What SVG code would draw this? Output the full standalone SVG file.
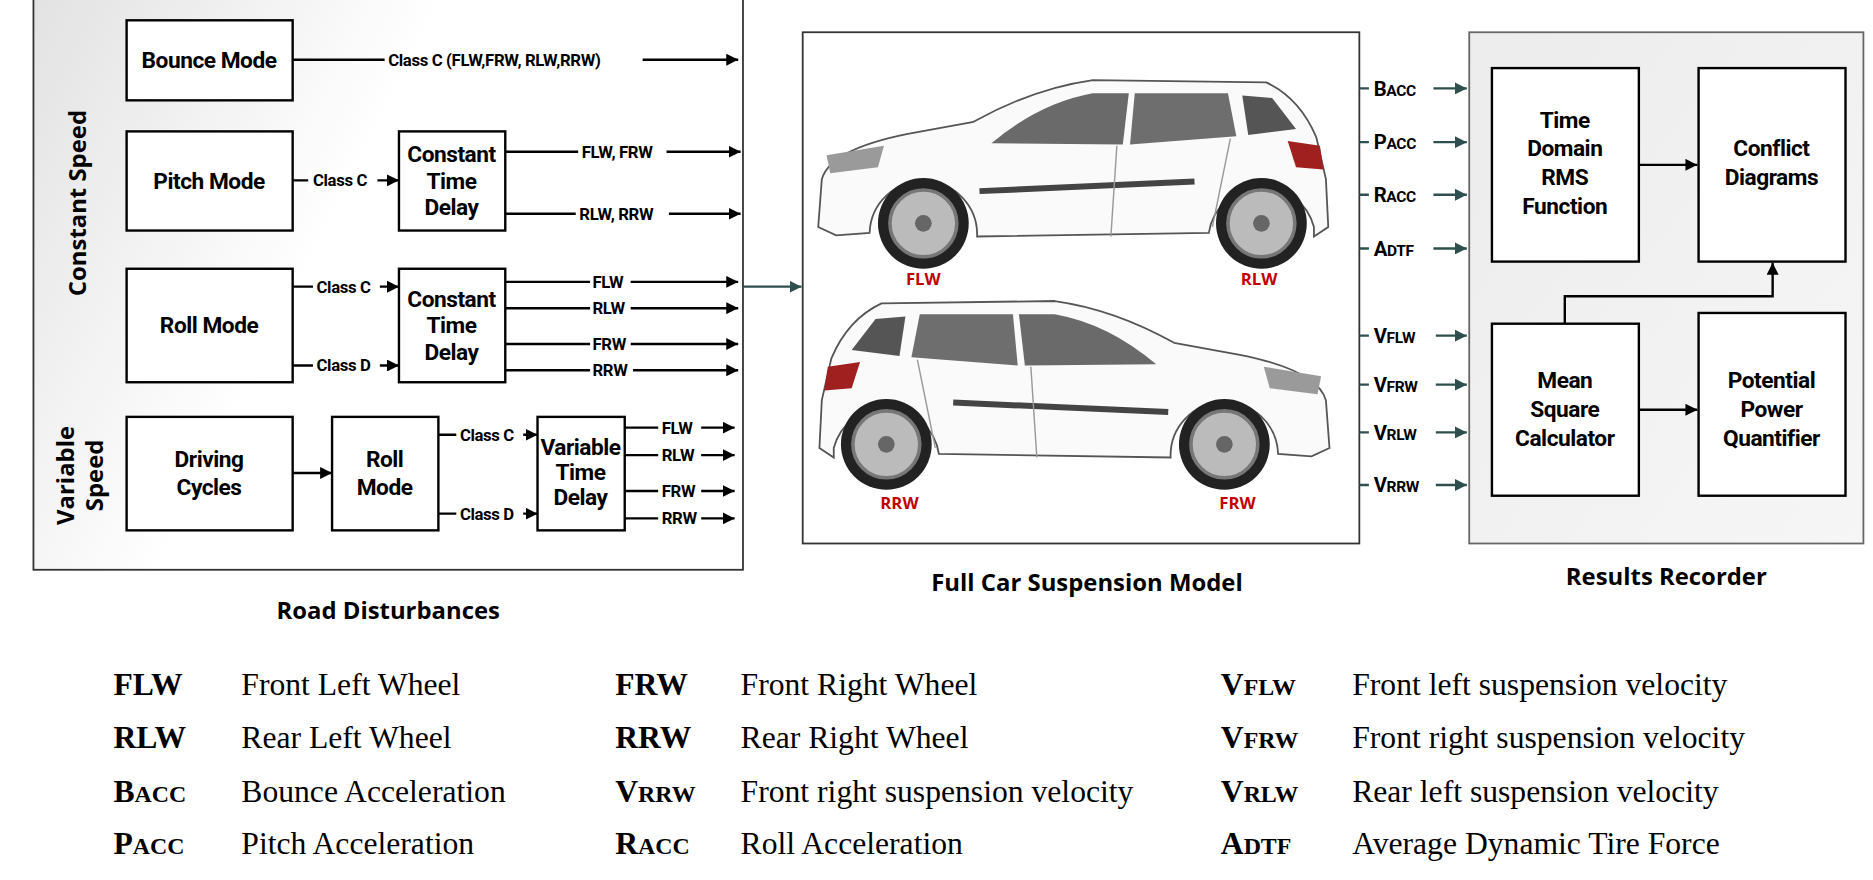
<svg xmlns="http://www.w3.org/2000/svg" width="1873" height="880" viewBox="0 0 1873 880">
<defs>
<linearGradient id="gl" x1="0" y1="0" x2="1" y2="0.4"><stop offset="0" stop-color="#e2e2e2"/><stop offset="0.5" stop-color="#ffffff"/><stop offset="1" stop-color="#ffffff"/></linearGradient>
<linearGradient id="gr" x1="0" y1="0" x2="1" y2="1"><stop offset="0" stop-color="#ececec"/><stop offset="1" stop-color="#f6f6f6"/></linearGradient>
<marker id="ah" viewBox="0 0 10 10" refX="10" refY="5" markerWidth="10" markerHeight="10" markerUnits="userSpaceOnUse" orient="auto"><path d="M0,0 L10,5 L0,10 Z" fill="#000"/></marker>
<marker id="ahg" viewBox="0 0 10 10" refX="10" refY="5" markerWidth="10" markerHeight="10" markerUnits="userSpaceOnUse" orient="auto"><path d="M0,0 L10,5 L0,10 Z" fill="#2f4f4f"/></marker>
<g id="car">
<path d="M685,190 L688,150 Q695,125 760,112 L815,102 Q865,74 915,67 L1060,69 Q1088,82 1102,115 L1110,150 L1112,190 L1100,198 L1100,190 A45,45 0 0 0 1012,195 L818,198 A45,45 0 0 0 728,195 L700,197 Z" fill="#fafafa" stroke="#555" stroke-width="1.5"/>
<path d="M830,120 Q870,86 915,78 L945,78 L940,121 Z" fill="#6a6a6a"/>
<path d="M950,78 L1028,78 L1035,114 L946,121 Z" fill="#6e6e6e"/>
<path d="M1040,80 L1065,82 L1085,108 L1045,113 Z" fill="#555"/>
<path d="M1078,118 L1105,122 L1108,142 L1085,140 Z" fill="#a02020"/>
<path d="M692,130 L740,122 L735,140 L695,145 Z" fill="#9a9a9a"/>
<path d="M820,160 L1000,152" stroke="#444" stroke-width="5"/>
<path d="M935,122 L930,198 M1030,116 L1015,190" stroke="#999" stroke-width="1.2" fill="none"/>
<circle cx="773" cy="187" r="38" fill="#222"/><circle cx="773" cy="187" r="28" fill="#bbb" stroke="#777" stroke-width="3"/><circle cx="773" cy="187" r="7" fill="#666"/>
<circle cx="1056" cy="187" r="38" fill="#222"/><circle cx="1056" cy="187" r="28" fill="#bbb" stroke="#777" stroke-width="3"/><circle cx="1056" cy="187" r="7" fill="#666"/>
</g>
</defs>
<style>
.b{fill:#fff;stroke:#000;stroke-width:2}
.t{font-family:Roboto,"Open Sans",sans-serif;font-weight:bold;font-size:19px;text-anchor:middle;letter-spacing:-0.4px}
.s{font-family:Roboto,"Open Sans",sans-serif;font-weight:bold;font-size:14px;letter-spacing:-0.3px}
.l{stroke:#000;stroke-width:2;fill:none;marker-end:url(#ah)}
.g{stroke:#2f4f4f;stroke-width:2;fill:none;marker-end:url(#ahg)}
.ti{font-family:"Open Sans",sans-serif;font-weight:bold;font-size:20px;text-anchor:middle}
.lg{font-family:"Liberation Serif",serif;font-size:26.5px}
.lb{font-family:"Liberation Serif",serif;font-size:26.5px;font-weight:bold}
.red{font-family:"Open Sans",sans-serif;font-weight:bold;font-size:14px;fill:#c00000;text-anchor:middle}
</style>
<g transform="scale(1.1945)">
<g id="panels">
<rect x="28" y="-4" width="594" height="481" fill="url(#gl)" stroke="#333" stroke-width="1.5"/>
<rect x="672" y="27" width="466" height="428" fill="#fff" stroke="#333" stroke-width="1.5"/>
<rect x="1230" y="27" width="330" height="428" fill="url(#gr)" stroke="#666" stroke-width="1.5"/>
</g>
<text class="ti" transform="translate(72,170) rotate(-90)">Constant Speed</text>
<text class="ti" transform="translate(62,398) rotate(-90)">Variable</text>
<text class="ti" transform="translate(86,398) rotate(-90)">Speed</text>
<g id="connectors">
<path class="l" d="M245,50 H618"/>
<path class="l" d="M245,151 H334"/>
<path class="l" d="M423,127 H620"/><path class="l" d="M423,179 H620"/>
<path class="l" d="M245,240 H334"/><path class="l" d="M245,306 H334"/>
<path class="l" d="M423,236 H618"/><path class="l" d="M423,258 H618"/><path class="l" d="M423,288 H618"/><path class="l" d="M423,310 H618"/>
<path class="l" d="M245,396 H278"/>
<path class="l" d="M367,364 H450"/><path class="l" d="M367,430 H450"/>
<path class="l" d="M523,358 H615"/><path class="l" d="M523,381 H615"/><path class="l" d="M523,411 H615"/><path class="l" d="M523,434 H615"/>
<path class="g" d="M622,240 H671"/>
<path class="g" d="M1138,74 H1228"/><path class="g" d="M1138,119 H1228"/><path class="g" d="M1138,163 H1228"/><path class="g" d="M1138,208 H1228"/>
<path class="g" d="M1138,281 H1228"/><path class="g" d="M1138,322 H1228"/><path class="g" d="M1138,362 H1228"/><path class="g" d="M1138,406 H1228"/>
<path class="l" d="M1372,138 H1421"/><path class="l" d="M1372,343 H1421"/>
<path class="l" d="M1310,271 V248 H1484 V220"/>
</g>
<g id="labels">
<rect x="322" y="41" width="216" height="18" fill="#fff"/><text class="s" x="325" y="55">Class C  (FLW,FRW, RLW,RRW)</text>
<rect x="258" y="143" width="58" height="17" fill="#fff"/><text class="s" x="262" y="156">Class C</text>
<rect x="484" y="119" width="74" height="17" fill="#fff"/><text class="s" x="487" y="132">FLW, FRW</text>
<rect x="482" y="171" width="78" height="17" fill="#fff"/><text class="s" x="485" y="184">RLW, RRW</text>
<rect x="262" y="232" width="56" height="17" fill="#fff"/><text class="s" x="265" y="245">Class C</text>
<rect x="262" y="298" width="56" height="17" fill="#fff"/><text class="s" x="265" y="311">Class D</text>
<g fill="#fff"><rect x="494" y="228" width="34" height="16"/><rect x="494" y="250" width="34" height="16"/><rect x="494" y="280" width="34" height="16"/><rect x="494" y="302" width="36" height="16"/></g>
<text class="s" x="496" y="241">FLW</text><text class="s" x="496" y="263">RLW</text><text class="s" x="496" y="293">FRW</text><text class="s" x="496" y="315">RRW</text>
<rect x="382" y="356" width="56" height="17" fill="#fff"/><text class="s" x="385" y="369">Class C</text>
<rect x="382" y="422" width="56" height="17" fill="#fff"/><text class="s" x="385" y="435">Class D</text>
<g fill="#fff"><rect x="551" y="350" width="36" height="16"/><rect x="551" y="373" width="36" height="16"/><rect x="551" y="403" width="36" height="16"/><rect x="551" y="426" width="36" height="16"/></g>
<text class="s" x="554" y="363">FLW</text><text class="s" x="554" y="386">RLW</text><text class="s" x="554" y="416">FRW</text><text class="s" x="554" y="439">RRW</text>
<g class="s" style="font-size:17px"><g fill="#fff"><rect x="1146" y="64" width="54" height="20"/><rect x="1146" y="109" width="54" height="20"/><rect x="1146" y="153" width="54" height="20"/><rect x="1146" y="198" width="54" height="20"/><rect x="1146" y="271" width="56" height="20"/><rect x="1146" y="312" width="56" height="20"/><rect x="1146" y="352" width="56" height="20"/><rect x="1146" y="396" width="56" height="20"/></g>
<text x="1150" y="80">B<tspan font-size="13">ACC</tspan></text>
<text x="1150" y="125">P<tspan font-size="13">ACC</tspan></text>
<text x="1150" y="169">R<tspan font-size="13">ACC</tspan></text>
<text x="1150" y="214">A<tspan font-size="13">DTF</tspan></text>
<text x="1150" y="287">V<tspan font-size="13">FLW</tspan></text>
<text x="1150" y="328">V<tspan font-size="13">FRW</tspan></text>
<text x="1150" y="368">V<tspan font-size="13">RLW</tspan></text>
<text x="1150" y="412">V<tspan font-size="13">RRW</tspan></text></g>
</g>
<g id="bounce"><rect class="b" x="106" y="17" width="139" height="67"/><text class="t" x="175" y="57">Bounce Mode</text></g>
<g id="pitch"><rect class="b" x="106" y="110" width="139" height="83"/><text class="t" x="175" y="158">Pitch Mode</text></g>
<g id="ctd1"><rect class="b" x="334" y="110" width="89" height="83"/><text class="t" x="378" y="136" font-size="16">Constant</text><text class="t" x="378" y="158" font-size="16">Time</text><text class="t" x="378" y="180" font-size="16">Delay</text></g>
<g id="roll"><rect class="b" x="106" y="225" width="139" height="95"/><text class="t" x="175" y="279">Roll Mode</text></g>
<g id="ctd2"><rect class="b" x="334" y="225" width="89" height="95"/><text class="t" x="378" y="257" font-size="16">Constant</text><text class="t" x="378" y="279" font-size="16">Time</text><text class="t" x="378" y="301" font-size="16">Delay</text></g>
<g id="driving"><rect class="b" x="106" y="349" width="139" height="95"/><text class="t" x="175" y="391">Driving</text><text class="t" x="175" y="414">Cycles</text></g>
<g id="roll2"><rect class="b" x="278" y="349" width="89" height="95"/><text class="t" x="322" y="391">Roll</text><text class="t" x="322" y="414">Mode</text></g>
<g id="vtd"><rect class="b" x="450" y="349" width="73" height="95"/><text class="t" x="486" y="381" font-size="15">Variable</text><text class="t" x="486" y="402" font-size="15">Time</text><text class="t" x="486" y="423" font-size="15">Delay</text></g>
<g id="cars">
<use href="#car"/>
<use href="#car" transform="translate(1798,185) scale(-1,1)"/>
<text class="red" x="773" y="239">FLW</text><text class="red" x="1054" y="239">RLW</text>
<text class="red" x="753" y="426">RRW</text><text class="red" x="1036" y="426">FRW</text>
</g>
<g id="rms"><rect class="b" x="1249" y="57" width="123" height="162"/><text class="t" x="1310" y="107">Time</text><text class="t" x="1310" y="131">Domain</text><text class="t" x="1310" y="155">RMS</text><text class="t" x="1310" y="179">Function</text></g>
<g id="conflict"><rect class="b" x="1422" y="57" width="123" height="162"/><text class="t" x="1483" y="131">Conflict</text><text class="t" x="1483" y="155">Diagrams</text></g>
<g id="msc"><rect class="b" x="1249" y="271" width="123" height="144"/><text class="t" x="1310" y="325">Mean</text><text class="t" x="1310" y="349">Square</text><text class="t" x="1310" y="373">Calculator</text></g>
<g id="ppq"><rect class="b" x="1422" y="262" width="123" height="153"/><text class="t" x="1483" y="325">Potential</text><text class="t" x="1483" y="349">Power</text><text class="t" x="1483" y="373">Quantifier</text></g>
<text class="ti" x="325" y="518">Road Disturbances</text>
<text class="ti" x="910" y="495">Full Car Suspension Model</text>
<text class="ti" x="1395" y="490">Results Recorder</text>
<g id="legend">
<text class="lb" x="95" y="582">FLW</text><text class="lg" x="202" y="582">Front Left Wheel</text>
<text class="lb" x="95" y="626">RLW</text><text class="lg" x="202" y="626">Rear Left Wheel</text>
<text class="lb" x="95" y="671">B<tspan font-size="20">ACC</tspan></text><text class="lg" x="202" y="671">Bounce Acceleration</text>
<text class="lb" x="95" y="715">P<tspan font-size="20">ACC</tspan></text><text class="lg" x="202" y="715">Pitch Acceleration</text>
<text class="lb" x="515" y="582">FRW</text><text class="lg" x="620" y="582">Front Right Wheel</text>
<text class="lb" x="515" y="626">RRW</text><text class="lg" x="620" y="626">Rear Right Wheel</text>
<text class="lb" x="515" y="671">V<tspan font-size="20">RRW</tspan></text><text class="lg" x="620" y="671">Front right suspension velocity</text>
<text class="lb" x="515" y="715">R<tspan font-size="20">ACC</tspan></text><text class="lg" x="620" y="715">Roll Acceleration</text>
<text class="lb" x="1022" y="582">V<tspan font-size="20">FLW</tspan></text><text class="lg" x="1132" y="582">Front left suspension velocity</text>
<text class="lb" x="1022" y="626">V<tspan font-size="20">FRW</tspan></text><text class="lg" x="1132" y="626">Front right suspension velocity</text>
<text class="lb" x="1022" y="671">V<tspan font-size="20">RLW</tspan></text><text class="lg" x="1132" y="671">Rear left suspension velocity</text>
<text class="lb" x="1022" y="715">A<tspan font-size="20">DTF</tspan></text><text class="lg" x="1132" y="715">Average Dynamic Tire Force</text>
</g>
</g>
</svg>
